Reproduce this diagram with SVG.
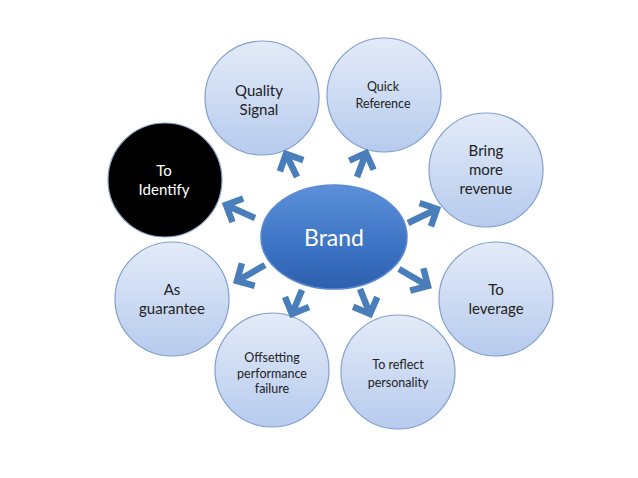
<svg xmlns="http://www.w3.org/2000/svg" width="638" height="478" viewBox="0 0 638 478">
<defs>
<linearGradient id="cg" x1="0" y1="0" x2="0" y2="1">
<stop offset="0" stop-color="#e3ebf8"/>
<stop offset="1" stop-color="#b7cbee"/>
</linearGradient>
<linearGradient id="eg" x1="0" y1="0" x2="0" y2="1">
<stop offset="0" stop-color="#5b8fd8"/>
<stop offset="0.6" stop-color="#3c73c4"/>
<stop offset="1" stop-color="#2e5fae"/>
</linearGradient>
<marker id="ah" markerUnits="userSpaceOnUse" markerWidth="32" markerHeight="32" refX="16" refY="16" orient="auto" viewBox="0 0 32 32" overflow="visible">
<path d="M3,3 L16,16 L3,29" fill="none" stroke="#4a7ebb" stroke-width="6.5" stroke-linejoin="miter"/>
</marker>
<style>
.c{fill:url(#cg);stroke:#7f9fcf;stroke-width:1.2}
.t{font-family:Lato,"Liberation Sans",sans-serif;font-size:15px;fill:#222;text-anchor:middle}
.s{font-size:12.5px}
.a{stroke:#4a7ebb;stroke-width:6.5;fill:none;marker-end:url(#ah)}
</style>
</defs>
<rect width="638" height="478" fill="#fff"/>
<g id="n-quality">
<circle class="c" cx="262" cy="98" r="57"/>
<text class="t" x="259" y="96">Quality</text>
<text class="t" x="259" y="115">Signal</text>
</g>
<g id="n-quick">
<circle class="c" cx="384" cy="95" r="57"/>
<text class="t s" x="383" y="91">Quick</text>
<text class="t s" x="383" y="108">Reference</text>
</g>
<g id="n-revenue">
<circle class="c" cx="486" cy="170" r="57"/>
<text class="t" x="486" y="156">Bring</text>
<text class="t" x="486" y="175">more</text>
<text class="t" x="486" y="194">revenue</text>
</g>
<g id="n-leverage">
<circle class="c" cx="496" cy="299" r="57"/>
<text class="t" x="496" y="295">To</text>
<text class="t" x="496" y="314">leverage</text>
</g>
<g id="n-reflect">
<circle class="c" cx="398" cy="372" r="57"/>
<text class="t s" x="398" y="369">To reflect</text>
<text class="t s" x="398" y="387">personality</text>
</g>
<g id="n-offset">
<circle class="c" cx="272" cy="370" r="57"/>
<text class="t s" x="272" y="362">Offsetting</text>
<text class="t s" x="272" y="378">performance</text>
<text class="t s" x="272" y="393">failure</text>
</g>
<g id="n-guarantee">
<circle class="c" cx="172" cy="299" r="57"/>
<text class="t" x="172" y="295">As</text>
<text class="t" x="172" y="314">guarantee</text>
</g>
<g id="n-identify">
<circle cx="165" cy="180" r="57" fill="#000" stroke="#8aa4cc" stroke-width="1.2"/>
<text class="t" x="164" y="176" style="fill:#fff">To</text>
<text class="t" x="164" y="195" style="fill:#fff">Identify</text>
</g>
<g id="n-brand">
<ellipse cx="334" cy="237" rx="73" ry="52" fill="url(#eg)" stroke="#5a8ad0" stroke-width="1.5"/>
<text x="334" y="246" font-family="Lato,'Liberation Sans',sans-serif" font-size="23" fill="#fff" text-anchor="middle">Brand</text>
</g>
<g id="connectors">
<line class="a" x1="297" y1="177" x2="286" y2="154"/>
<line class="a" x1="357" y1="177" x2="366" y2="153"/>
<line class="a" x1="255" y1="218" x2="226" y2="205"/>
<line class="a" x1="408" y1="223" x2="437" y2="209"/>
<line class="a" x1="265" y1="265" x2="237" y2="281"/>
<line class="a" x1="399" y1="269" x2="428" y2="286"/>
<line class="a" x1="302" y1="290" x2="292" y2="314"/>
<line class="a" x1="360" y1="289" x2="370" y2="314"/>
</g>
</svg>
